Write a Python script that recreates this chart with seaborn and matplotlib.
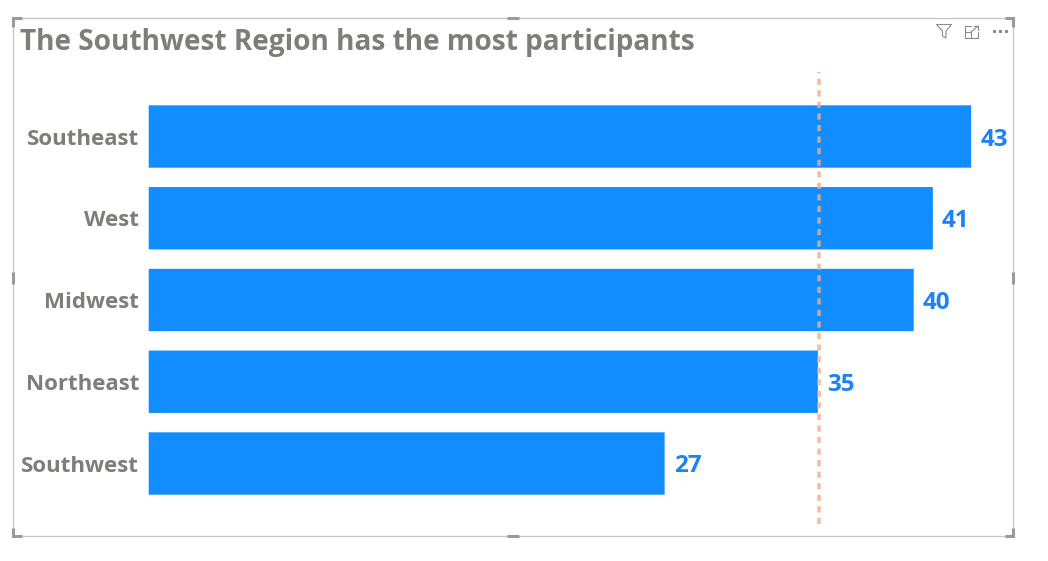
import matplotlib
matplotlib.use("Agg")
import matplotlib.pyplot as plt
from matplotlib.patches import Rectangle
import pandas as pd
import seaborn as sns

regions = ["Southeast", "West", "Midwest", "Northeast", "Southwest"]
participants = [43, 41, 40, 35, 27]
reference_value = 35
title = "The Southwest Region has the most participants"

GRAY = "#7F7C7A"
BLUE = "#118DFF"
LABEL_BLUE = "#1F82F2"
FRAME = "#C4C4C4"
HANDLE = "#9A9A9A"
ICON = "#8A8A8A"

sns.set_theme(style="white")
plt.rcParams["font.family"] = ["Open Sans", "DejaVu Sans"]

W, H = 1048, 561
fig = plt.figure(figsize=(W / 100, H / 100), dpi=100, facecolor="white")


def px_axes(left, top, right, bottom):
    return fig.add_axes([left / W, 1 - bottom / H, (right - left) / W, (bottom - top) / H])


# visual chrome drawn in pixel coordinates
chrome = fig.add_axes([0, 0, 1, 1], zorder=0)
chrome.set_xlim(0, W)
chrome.set_ylim(H, 0)
chrome.axis("off")
chrome.add_patch(Rectangle((13, 18), 1000, 518, fill=False, ec=FRAME, lw=0.9))

for xs, ys in [
    ([21.5, 13, 13], [18, 18, 26.5]),
    ([1004.5, 1013, 1013], [18, 18, 26.5]),
    ([21.5, 13, 13], [536, 536, 527.5]),
    ([1004.5, 1013, 1013], [536, 536, 527.5]),
    ([507, 519], [18, 18]),
    ([507, 519], [536, 536]),
    ([13, 13], [272, 284]),
    ([1013, 1013], [272, 284]),
]:
    chrome.plot(xs, ys, color=HANDLE, lw=2.2, solid_capstyle="butt", solid_joinstyle="miter")

# filter, focus and more icons
chrome.plot([936.5, 951.5, 946, 946, 942.5, 942.5, 936.5], [24.5, 24.5, 31, 38, 36, 31, 24.5], color=ICON, lw=0.8)
chrome.plot([971, 965, 965, 978, 978], [26, 26, 38, 38, 32], color=ICON, lw=0.8)
chrome.plot([971, 978, 978], [32, 26, 26], color=ICON, lw=0.8)
chrome.plot([974, 978, 978], [26, 26, 30], color=ICON, lw=0.8)
chrome.plot([965, 971, 971], [32, 32, 38], color=ICON, lw=0.8)
chrome.plot([993.5, 999.5, 1005.5], [31, 31, 31], ls="none", marker="s", ms=1.3, color=ICON)

fig.text(19.5 / W, 1 - 42.6 / H, title, fontsize=20.2, fontweight="bold", color=GRAY, ha="left", va="center")

# axes cover the reference line extent: 19.16 px per unit, 81.75 px per band
ax = px_axes(148, 72, 1012, 524)
ax.patch.set_alpha(0)
df = pd.DataFrame({"region": regions, "participants": participants})
sns.barplot(data=df, x="participants", y="region", color=BLUE, saturation=1, width=0.78, ax=ax)
ax.set_xlim(0, 864 / 19.16)
ax.set_ylim((524 - 136.5) / 81.75, (72 - 136.5) / 81.75)
for bar in ax.containers[0]:
    bar.set_snap(False)

ax.axvline(reference_value, color="#F0AD8E", alpha=0.8, lw=2.6, dashes=(1.7, 1.5), dash_capstyle="butt", zorder=5)

value_labels = ax.bar_label(ax.containers[0], padding=6, fontsize=17.5, fontweight="bold", color=LABEL_BLUE)
for text in value_labels:
    text.set_verticalalignment("center_baseline")

ax.set_xlabel("")
ax.set_ylabel("")
ax.set_xticks([])
ax.tick_params(axis="y", length=0, pad=6.5)
for label in ax.get_yticklabels():
    label.set_fontsize(16)
    label.set_fontweight("bold")
    label.set_color(GRAY)
sns.despine(ax=ax, left=True, bottom=True)

fig.savefig("out.png", dpi=100)
